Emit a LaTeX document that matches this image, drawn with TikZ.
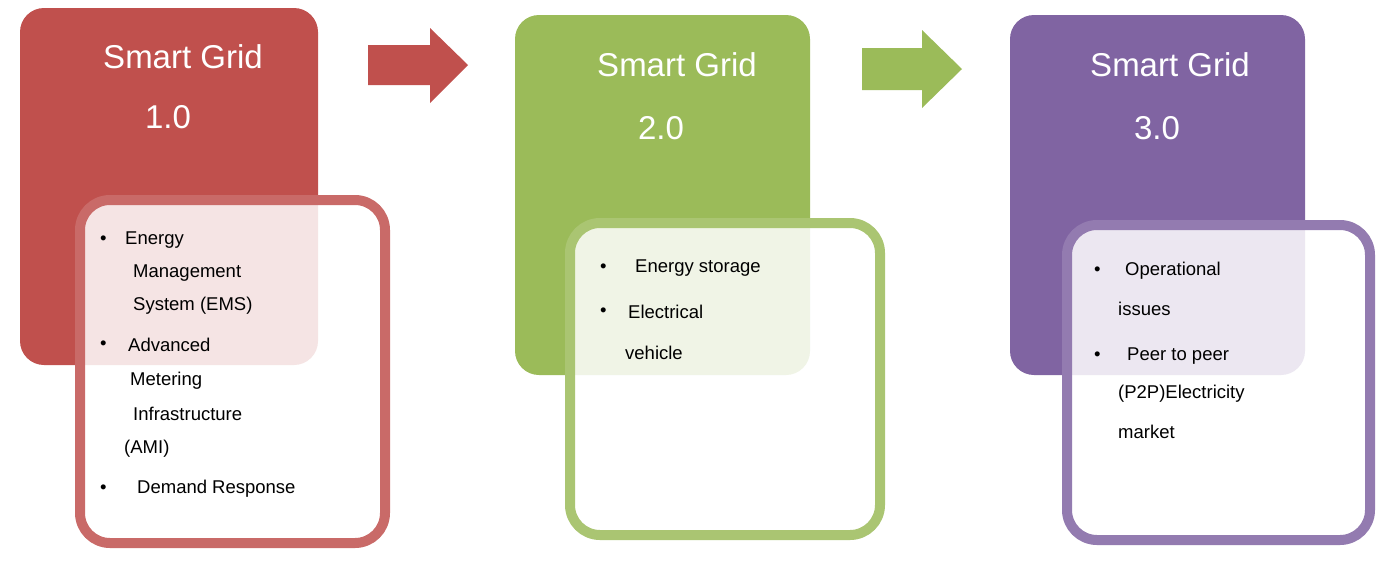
\documentclass[tikz,border=0pt]{standalone}
\usepackage{fontspec}
\setmainfont{Liberation Sans}
\definecolor{cred}{HTML}{C0504D}
\definecolor{cgreen}{HTML}{9BBB59}
\definecolor{cpurple}{HTML}{8064A2}
\begin{document}
\begin{tikzpicture}[x=1pt,y=-1pt,
  solidbox/.style={fill=#1,draw=none,rounded corners=24pt},
  outbox/.style={draw=#1,line width=10pt,fill=white,fill opacity=0.85,rounded corners=30pt},
  title/.style={text=white,font=\fontsize{33}{38}\selectfont,inner sep=0pt},
  item/.style={anchor=west,font=\fontsize{18.5}{22}\selectfont,inner sep=0pt,text=black}]
\useasboundingbox (0,0) rectangle (1385,563);
% red
\fill[cred,rounded corners=24pt] (20,8) rectangle (318,365);
\draw[outbox=cred!85] (80,200) rectangle (385,543);
\node[title] (t1) at (183,57) {Smart Grid};
\node[title] (v1) at (168,117) {1.0};
\node[item] (a1) at (100,240) {•};
\node[item] (a1t) at (125,240) {Energy};
\node[item] (a2) at (133,273) {Management};
\node[item] (a3) at (133,306) {System (EMS)};
\node[item] (b1) at (100,345) {•};
\node[item] (b1t) at (128,345) {Advanced};
\node[item] (b2) at (130,381) {Metering};
\node[item] (b3) at (133,414) {Infrastructure};
\node[item] (b4) at (124,449) {(AMI)};
\node[item] (c1) at (100,489) {•};
\node[item] (c1t) at (137,489) {Demand Response};
% arrow 1
\fill[cred] (368,45) -- (430,45) -- (430,28) -- (468,65) -- (430,103) -- (430,85) -- (368,85) -- cycle;
% green
\fill[cgreen,rounded corners=24pt] (515,15) rectangle (810,375);
\draw[outbox=cgreen!85] (570,223) rectangle (880,535);
\node[title] (t2) at (677,65) {Smart Grid};
\node[title] (v2) at (661,128) {2.0};
\node[item] (d1) at (600,268) {•};
\node[item] (d1t) at (635,268) {Energy storage};
\node[item] (e1) at (600,312) {•};
\node[item] (e1t) at (628,312) {Electrical};
\node[item] (e2) at (625,353) {vehicle};
% arrow 2
\fill[cgreen] (862,48) -- (922,48) -- (922,30) -- (962,69) -- (922,108) -- (922,90) -- (862,90) -- cycle;
% purple
\fill[cpurple,rounded corners=24pt] (1010,15) rectangle (1305,375);
\draw[outbox=cpurple!85] (1067,225) rectangle (1370,540);
\node[title] (t3) at (1170,65) {Smart Grid};
\node[title] (v3) at (1157,128) {3.0};
\node[item] (f1) at (1094,271) {•};
\node[item] (f1t) at (1125,271) {Operational};
\node[item] (f2) at (1118,309) {issues};
\node[item] (g1) at (1094,356) {•};
\node[item] (g1t) at (1127,356) {Peer to peer};
\node[item] (g2) at (1118,394) {(P2P)Electricity};
\node[item] (g3) at (1118,432) {market};
\end{tikzpicture}
\end{document}
